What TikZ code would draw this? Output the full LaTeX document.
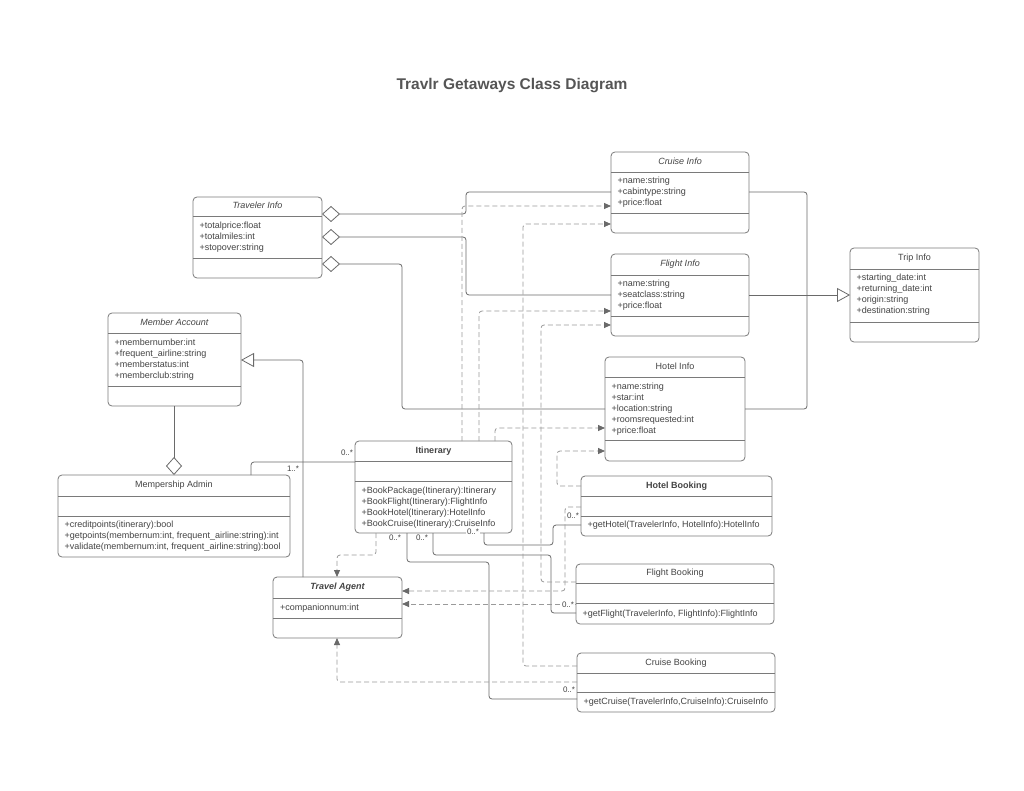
\documentclass[tikz,border=0pt]{standalone}
\usepackage{fontspec}
\setmainfont{Liberation Sans}
\usetikzlibrary{arrows.meta}
\definecolor{boxc}{HTML}{7A7A7A}
\definecolor{txtc}{HTML}{444444}
\definecolor{titlec}{HTML}{555555}
\definecolor{solc}{HTML}{6A6A6A}
\definecolor{dashc}{HTML}{9A9A9A}
\definecolor{tipc}{HTML}{6A6A6A}
\tikzset{
  clsbox/.style={draw=boxc, line width=0.8pt, rounded corners=4pt, inner sep=0pt, outer sep=0pt, fill=white},
  divline/.style={draw=boxc, line width=0.8pt},
  ttl/.style={font=\fontsize{9}{11}\selectfont, text=txtc, inner sep=0pt, text height=6.6pt, text depth=1.9pt},
  attr/.style={anchor=north west, inner sep=0pt, align=left, font=\fontsize{9}{11}\selectfont, text=txtc},
  mult/.style={font=\fontsize{8}{10}\selectfont, text=txtc, inner sep=0.6pt, fill=white},
  assoc/.style={draw=solc, line width=0.8pt, rounded corners=3pt},
  depend/.style={draw=dashc, line width=0.8pt, dash pattern=on 5pt off 3pt, rounded corners=3pt, -{Triangle[length=7pt,width=6pt,color=tipc]}},
  aggr/.style={assoc, {Diamond[open,length=18pt,width=16pt]}-},
  gener/.style={assoc, -{Triangle[open,length=13pt,width=14pt]}},
}
% #1 name, #2 left, #3 top, #4 right, #5 first divider, #6 second divider, #7 bottom, #8 title
\newcommand{\umlbox}[8]{%
  \node[clsbox, minimum width={(#4)-(#2)}, minimum height={(#7)-(#3)}, anchor=north west] (#1) at (#2,#3) {};
  \draw[divline] (#2,#5) -- (#4,#5);
  \draw[divline] (#2,#6) -- (#4,#6);
  \node[ttl] (#1-t) at ({(#2+#4)/2},{(#3+#5)/2}) {#8};
}
\begin{document}
\begin{tikzpicture}[x=1pt,y=-1pt]
\fill[white] (0,0) rectangle (1024,791);
\useasboundingbox (0,0) rectangle (1024,791);

\node[font=\fontsize{15.5}{18}\selectfont\bfseries, text=titlec] (title) at (512,86) {Travlr Getaways Class Diagram};

% classes
\umlbox{trav}{193}{197}{322}{216}{258}{278}{\itshape Traveler Info}
\node[attr] (trav-a) at (199.5,220.3) {\strut+totalprice:float\\+totalmiles:int\\+stopover:string};

\umlbox{cruise}{611}{152}{749}{172}{213}{233}{\itshape Cruise Info}
\node[attr] (cruise-a) at (617.5,175.3) {\strut+name:string\\+cabintype:string\\+price:float};

\umlbox{flight}{611}{254}{749}{275}{316}{336}{\itshape Flight Info}
\node[attr] (flight-a) at (617.5,278.3) {\strut+name:string\\+seatclass:string\\+price:float};

\umlbox{trip}{850}{248}{979}{269}{322}{342}{Trip Info}
\node[attr] (trip-a) at (856.5,272.3) {\strut+starting\_date:int\\+returning\_date:int\\+origin:string\\+destination:string};

\umlbox{hotel}{605}{357}{745}{377}{440}{461}{Hotel Info}
\node[attr] (hotel-a) at (611.5,381.3) {\strut+name:string\\+star:int\\+location:string\\+roomsrequested:int\\+price:float};

\umlbox{member}{108}{313}{241}{333}{386}{406}{\itshape Member Account}
\node[attr] (member-a) at (114.5,337.3) {\strut+membernumber:int\\+frequent\_airline:string\\+memberstatus:int\\+memberclub:string};

\umlbox{admin}{58}{475}{290}{496}{516}{557}{Mempership Admin}
\node[attr] (admin-a) at (64.5,519.3) {\strut+creditpoints(itinerary):bool\\+getpoints(membernum:int, frequent\_airline:string):int\\+validate(membernum:int, frequent\_airline:string):bool};

\umlbox{itin}{355}{441}{512}{461}{481}{533}{\bfseries Itinerary}
\node[attr] (itin-a) at (361.5,485.3) {\strut+BookPackage(Itinerary):Itinerary\\+BookFlight(Itinerary):FlightInfo\\+BookHotel(Itinerary):HotelInfo\\+BookCruise(Itinerary):CruiseInfo};

\umlbox{hbook}{581}{476}{772}{496}{516}{536}{\bfseries Hotel Booking}
\node[attr] (hbook-a) at (587.5,519.3) {\strut+getHotel(TravelerInfo, HotelInfo):HotelInfo};

\umlbox{fbook}{576}{564}{774}{583}{603}{624}{Flight Booking}
\node[attr] (fbook-a) at (582.5,608.3) {\strut+getFlight(TravelerInfo, FlightInfo):FlightInfo};

\umlbox{cbook}{577}{653}{775}{673}{692}{712}{Cruise Booking}
\node[attr] (cbook-a) at (583.5,696.3) {\strut+getCruise(TravelerInfo,CruiseInfo):CruiseInfo};

\umlbox{agent}{273}{577}{402}{598}{618}{638}{\bfseries\itshape Travel Agent}
\node[attr] (agent-a) at (280,602.3) {\strut+companionnum:int};

% aggregations from Traveler Info
\draw[aggr] (trav.east|-0,214) -- (466,214) |- (cruise.west|-0,192);
\draw[aggr] (trav.east|-0,237) -- (466,237) |- (flight.west|-0,295);
\draw[aggr] (trav.east|-0,264) -- (402,264) |- (hotel.west|-0,409);

% generalization to Trip Info
\draw[assoc] (cruise.east|-0,192) -| (807,409) -- (hotel.east|-0,409);
\draw[gener] (flight.east|-0,295) -- (trip.west|-0,295);

% Member Account relations
\draw[aggr] (admin.north) -- (admin.north|-member.south);
\draw[gener] (agent.north-|303,0) |- (member.east|-0,360);

% associations
\draw[assoc] (admin.north-|251,0) |- (itin.west|-0,462);
\draw[assoc] (itin.south-|407,0) |- (489,562) |- (cbook.west|-0,699);
\draw[assoc] (itin.south-|433,0) |- (551,555) |- (fbook.west|-0,613);
\draw[assoc] (itin.south-|484,0) |- (553,545) |- (hbook.west|-0,525);

% dependencies
\draw[depend] (itin.north-|462,0) |- (cruise.west|-0,206);
\draw[depend] (itin.north-|479,0) |- (flight.west|-0,311);
\draw[depend] (itin.north-|495,0) |- (hotel.west|-0,428);
\draw[depend] (itin.south-|376,0) |- (337,555) -- (agent.north-|337,0);
\draw[depend] (cbook.west|-0,666) -| (523,224) -- (cruise.west|-0,224);
\draw[depend] (fbook.west|-0,582) -| (541,325) -- (flight.west|-0,325);
\draw[depend] (hbook.west|-0,486) -| (557,451) -- (hotel.west|-0,451);
\draw[depend] (hbook.west|-0,507) -| (565,591) -- (agent.east|-0,591);
\draw[depend] (fbook.west|-0,604) -- (agent.east|-0,604);
\draw[depend] (cbook.west|-0,682) -| (agent.south-|337,0);

% multiplicities
\node[mult] (m1) at (293,469) {1..*};
\node[mult] (m2) at (347,453) {0..*};
\node[mult] (m3) at (395,538) {0..*};
\node[mult] (m4) at (422,538) {0..*};
\node[mult] (m5) at (473,532) {0..*};
\node[mult] (m6) at (573,516) {0..*};
\node[mult] (m7) at (568,605) {0..*};
\node[mult] (m8) at (569,690) {0..*};
\end{tikzpicture}
\end{document}
